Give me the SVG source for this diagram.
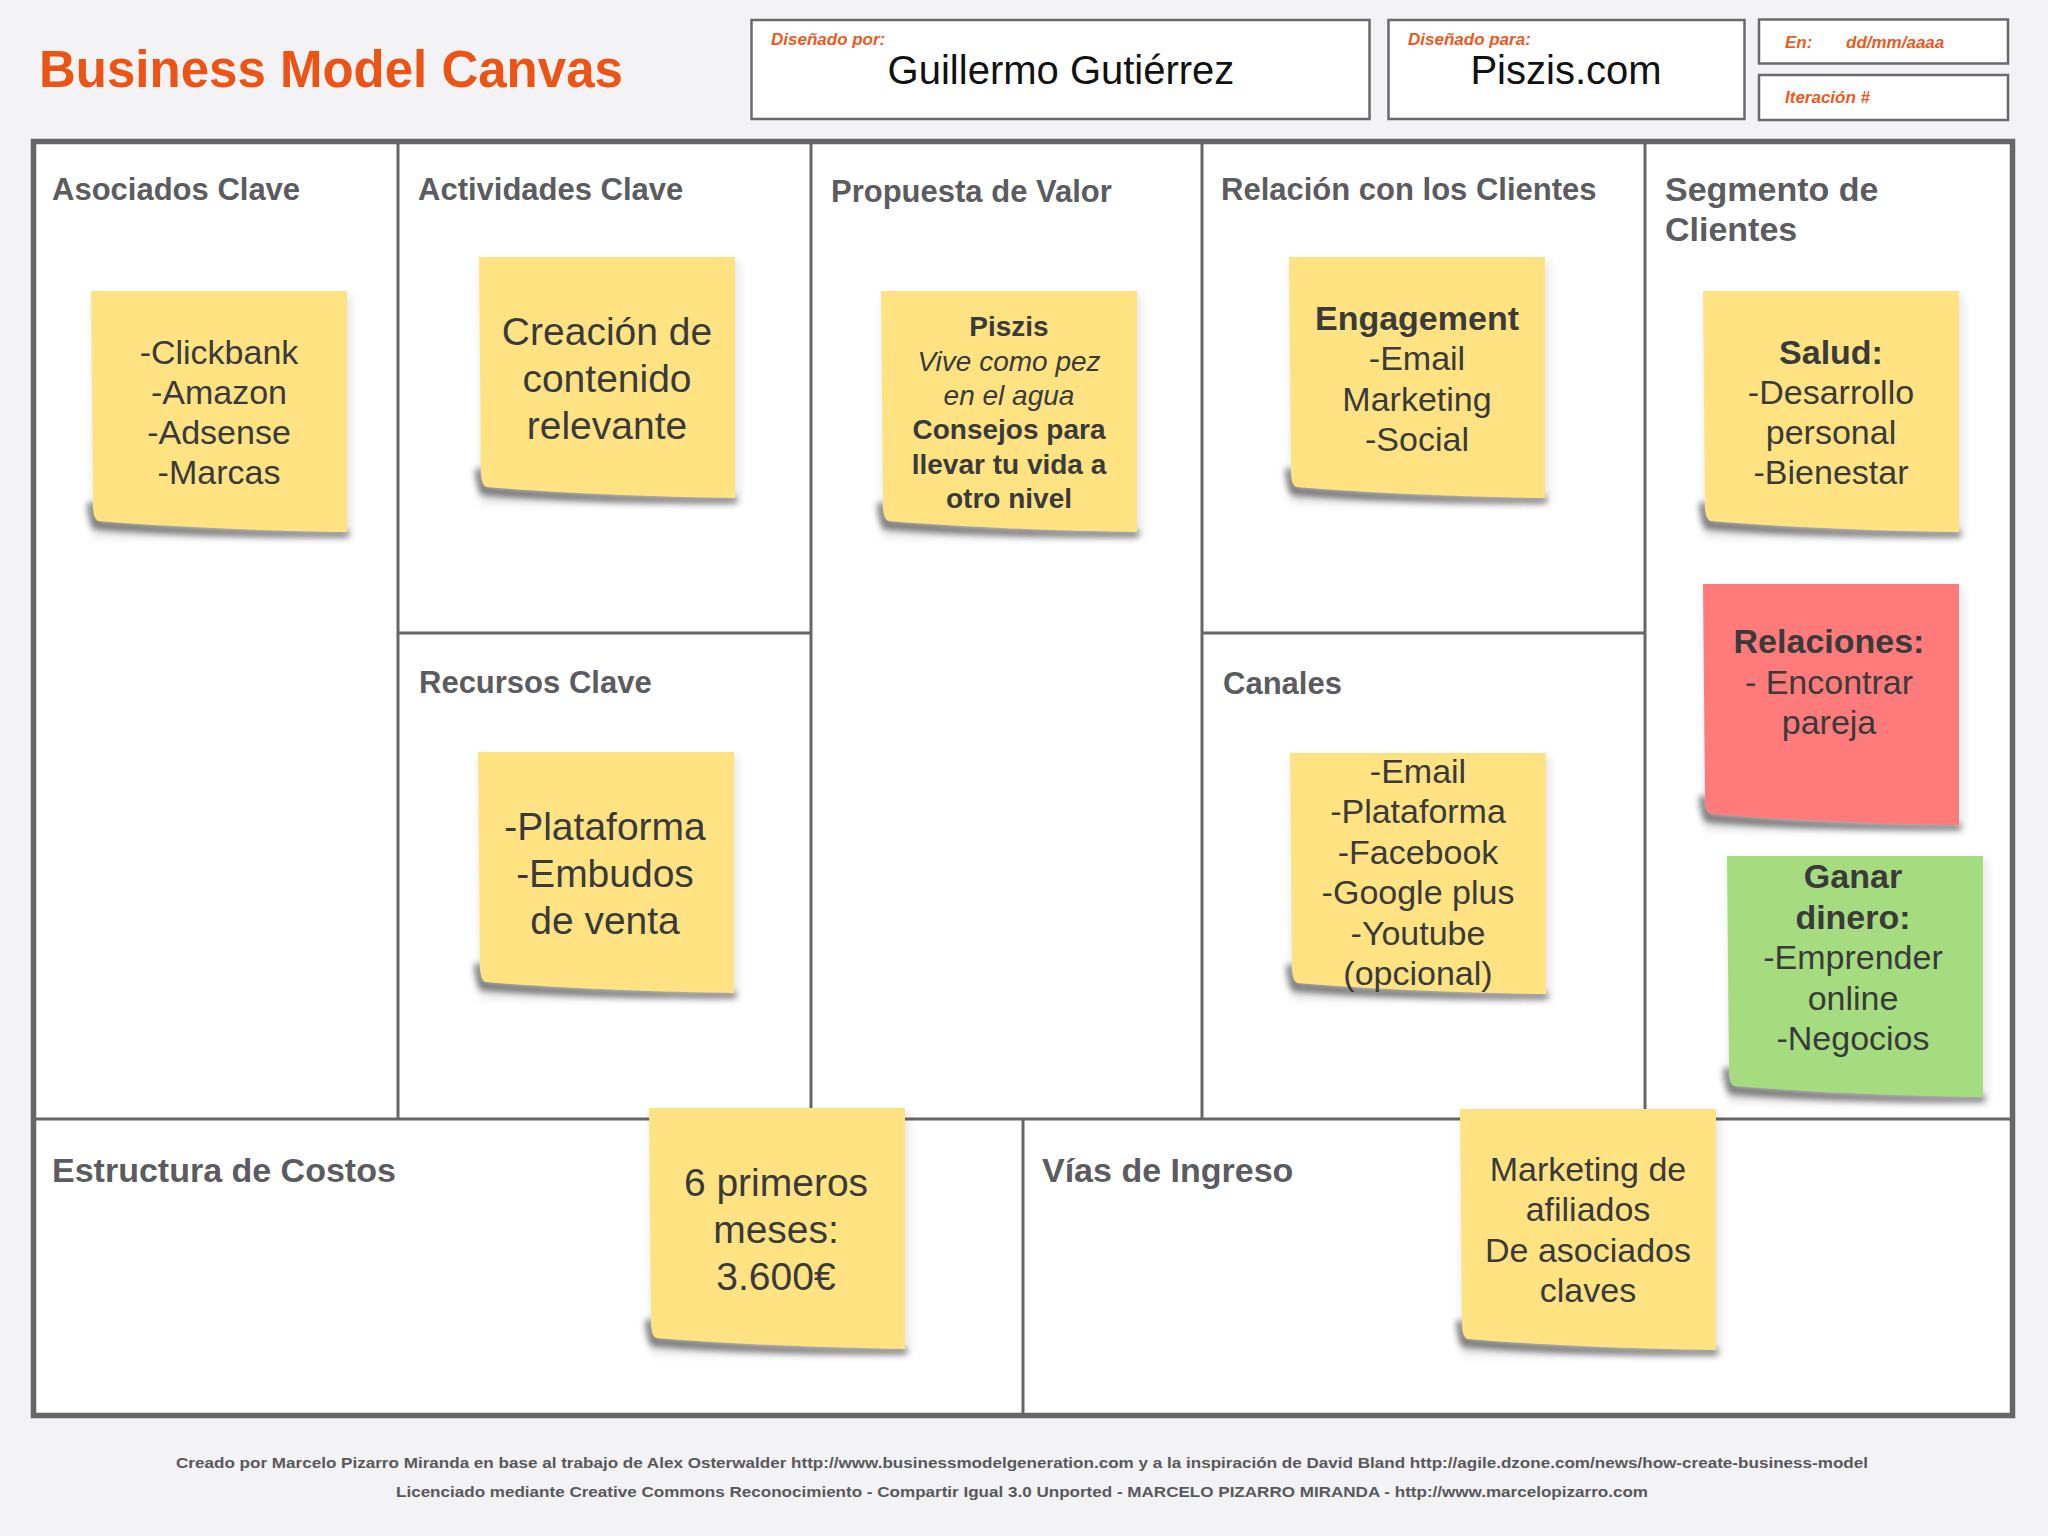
<svg xmlns="http://www.w3.org/2000/svg" xmlns:xlink="http://www.w3.org/1999/xlink" width="2048" height="1536" viewBox="0 0 2048 1536">
<defs>
<style>
.bg{fill:#f3f2f4}
.hbox{fill:#ffffff;stroke:#6a6a6c;stroke-width:2.5}
.lbl{font-family:"Liberation Sans",Arial,sans-serif;font-weight:bold;font-style:italic;font-size:17px;fill:#ec5a1e}
.big{font-family:"Liberation Sans",Arial,sans-serif;font-size:40px;fill:#111}
.title{font-family:"Liberation Sans",Arial,sans-serif;font-weight:bold;font-size:51px;fill:#ec5416}
.line{stroke:#666668;stroke-width:3;fill:none}
.frame{fill:#ffffff;stroke:#666668;stroke-width:5.5}
.head{font-family:"Liberation Sans",Arial,sans-serif;font-weight:bold;font-size:31px;fill:#5c5c60}
.head34{font-family:"Liberation Sans",Arial,sans-serif;font-weight:bold;font-size:34px;fill:#5c5c60}
.nt{font-family:"Liberation Sans",Arial,sans-serif;font-size:34px;fill:#3a3a3a;text-anchor:middle}
.nt39{font-family:"Liberation Sans",Arial,sans-serif;font-size:39px;fill:#3a3a3a;text-anchor:middle}
.nt28{font-family:"Liberation Sans",Arial,sans-serif;font-size:28px;fill:#3a3a3a;text-anchor:middle}
.b{font-weight:bold}
.i{font-style:italic}
.foot{font-family:"Liberation Sans",Arial,sans-serif;font-weight:bold;font-size:15px;fill:#58585c;text-anchor:middle}
</style>
<filter id="blur3" x="-20%" y="-20%" width="140%" height="140%"><feGaussianBlur stdDeviation="3"/></filter>
<filter id="blur5" x="-20%" y="-20%" width="140%" height="140%"><feGaussianBlur stdDeviation="5"/></filter>
<g id="note">
<path d="M2,4 H260 V246 H2 Z" fill="#000" opacity="0.10" filter="url(#blur5)"/>
<path d="M-4,212 Q-3,228 2,238 C70,244 170,247 258,246 L258,240 C170,240 80,236 8,229 Q4,224 4,212 Z" fill="#4a4a4a" opacity="0.7" filter="url(#blur3)"/>
<path d="M0,0 H256 V241 C180,240 80,236 7,230 Q2,227 2,214 Z"/>
</g>
</defs>

<rect class="bg" x="0" y="0" width="2048" height="1536"/>

<g id="header">
<text class="title" x="39" y="87">Business Model Canvas</text>
<g id="designed-by">
<rect class="hbox" x="751.5" y="20" width="618" height="99"/>
<text class="lbl" x="771" y="45">Diseñado por:</text>
<text class="big" x="1061" y="84" text-anchor="middle">Guillermo Gutiérrez</text>
</g>
<g id="designed-for">
<rect class="hbox" x="1388.5" y="20" width="356" height="99"/>
<text class="lbl" x="1408" y="45">Diseñado para:</text>
<text class="big" x="1566" y="84" text-anchor="middle">Piszis.com</text>
</g>
<g id="date">
<rect class="hbox" x="1759" y="19.5" width="249" height="44"/>
<text class="lbl" x="1785" y="48">En:</text>
<text class="lbl" x="1846" y="48">dd/mm/aaaa</text>
</g>
<g id="iteration">
<rect class="hbox" x="1759" y="75" width="249" height="45"/>
<text class="lbl" x="1785" y="103">Iteración #</text>
</g>
</g>

<g id="grid">
<rect class="frame" x="33.5" y="141.5" width="1979" height="1274"/>
<line class="line" x1="398" y1="143" x2="398" y2="1119"/>
<line class="line" x1="811" y1="143" x2="811" y2="1119"/>
<line class="line" x1="1202" y1="143" x2="1202" y2="1119"/>
<line class="line" x1="1645" y1="143" x2="1645" y2="1119"/>
<line class="line" x1="398" y1="633" x2="811" y2="633"/>
<line class="line" x1="1202" y1="633" x2="1645" y2="633"/>
<line class="line" x1="35" y1="1119" x2="2011" y2="1119"/>
<line class="line" x1="1023" y1="1119" x2="1023" y2="1414"/>
</g>

<g id="headings">
<text class="head" x="52" y="200">Asociados Clave</text>
<text class="head" x="418" y="200">Actividades Clave</text>
<text class="head" x="831" y="202">Propuesta de Valor</text>
<text class="head" x="1221" y="200">Relación con los Clientes</text>
<text class="head34" x="1665" y="201">Segmento de</text>
<text class="head34" x="1665" y="241">Clientes</text>
<text class="head" x="419" y="693">Recursos Clave</text>
<text class="head" x="1223" y="694">Canales</text>
<text class="head34" x="52" y="1182">Estructura de Costos</text>
<text class="head34" x="1042" y="1182">Vías de Ingreso</text>
</g>

<g id="note-asociados">
<use xlink:href="#note" href="#note" x="91" y="291" fill="#ffe382"/>
<text class="nt" x="219" y="364">-Clickbank</text>
<text class="nt" x="219" y="404">-Amazon</text>
<text class="nt" x="219" y="444">-Adsense</text>
<text class="nt" x="219" y="484">-Marcas</text>
</g>

<g id="note-actividades">
<use xlink:href="#note" href="#note" x="479" y="257" fill="#ffe382"/>
<text class="nt39" x="607" y="345">Creación de</text>
<text class="nt39" x="607" y="392">contenido</text>
<text class="nt39" x="607" y="439">relevante</text>
</g>

<g id="note-propuesta">
<use xlink:href="#note" href="#note" x="881" y="291" fill="#ffe382"/>
<text class="nt28 b" x="1009" y="336">Piszis</text>
<text class="nt28 i" x="1009" y="370.5">Vive como pez</text>
<text class="nt28 i" x="1009" y="405">en el agua</text>
<text class="nt28 b" x="1009" y="439">Consejos para</text>
<text class="nt28 b" x="1009" y="473.5">llevar tu vida a</text>
<text class="nt28 b" x="1009" y="508">otro nivel</text>
</g>

<g id="note-relacion">
<use xlink:href="#note" href="#note" x="1289" y="257" fill="#ffe382"/>
<text class="nt b" x="1417" y="330">Engagement</text>
<text class="nt" x="1417" y="370">-Email</text>
<text class="nt" x="1417" y="411">Marketing</text>
<text class="nt" x="1417" y="451">-Social</text>
</g>

<g id="note-salud">
<use xlink:href="#note" href="#note" x="1703" y="291" fill="#ffe382"/>
<text class="nt b" x="1831" y="364">Salud:</text>
<text class="nt" x="1831" y="404">-Desarrollo</text>
<text class="nt" x="1831" y="444">personal</text>
<text class="nt" x="1831" y="484">-Bienestar</text>
</g>

<g id="note-relaciones">
<use xlink:href="#note" href="#note" x="1703" y="584" fill="#ff7b7b"/>
<text class="nt b" x="1829" y="653">Relaciones:</text>
<text class="nt" x="1829" y="694">- Encontrar</text>
<text class="nt" x="1829" y="734">pareja</text>
</g>

<g id="note-dinero">
<use xlink:href="#note" href="#note" x="1727" y="856" fill="#a6dc80"/>
<text class="nt b" x="1853" y="888">Ganar</text>
<text class="nt b" x="1853" y="929">dinero:</text>
<text class="nt" x="1853" y="969">-Emprender</text>
<text class="nt" x="1853" y="1010">online</text>
<text class="nt" x="1853" y="1050">-Negocios</text>
</g>

<g id="note-canales">
<use xlink:href="#note" href="#note" x="1290" y="753" fill="#ffe382"/>
<text class="nt" x="1418" y="783">-Email</text>
<text class="nt" x="1418" y="823">-Plataforma</text>
<text class="nt" x="1418" y="864">-Facebook</text>
<text class="nt" x="1418" y="904">-Google plus</text>
<text class="nt" x="1418" y="945">-Youtube</text>
<text class="nt" x="1418" y="985">(opcional)</text>
</g>

<g id="note-recursos">
<use xlink:href="#note" href="#note" x="478" y="752" fill="#ffe382"/>
<text class="nt39" x="605" y="840">-Plataforma</text>
<text class="nt39" x="605" y="887">-Embudos</text>
<text class="nt39" x="605" y="934">de venta</text>
</g>

<g id="note-costos">
<use xlink:href="#note" href="#note" x="649" y="1108" fill="#ffe382"/>
<text class="nt39" x="776" y="1196">6 primeros</text>
<text class="nt39" x="776" y="1243">meses:</text>
<text class="nt39" x="776" y="1290">3.600€</text>
</g>

<g id="note-ingresos">
<use xlink:href="#note" href="#note" x="1460" y="1109" fill="#ffe382"/>
<text class="nt" x="1588" y="1181">Marketing de</text>
<text class="nt" x="1588" y="1221">afiliados</text>
<text class="nt" x="1588" y="1262">De asociados</text>
<text class="nt" x="1588" y="1302">claves</text>
</g>

<g id="footer">
<text class="foot" x="1022" y="1468" textLength="1692" lengthAdjust="spacingAndGlyphs">Creado por Marcelo Pizarro Miranda en base al trabajo de Alex Osterwalder http://www.businessmodelgeneration.com y a la inspiración de David Bland http://agile.dzone.com/news/how-create-business-model</text>
<text class="foot" x="1022" y="1497" textLength="1252" lengthAdjust="spacingAndGlyphs">Licenciado mediante Creative Commons Reconocimiento - Compartir Igual 3.0 Unported - MARCELO PIZARRO MIRANDA - http://www.marcelopizarro.com</text>
</g>
</svg>
